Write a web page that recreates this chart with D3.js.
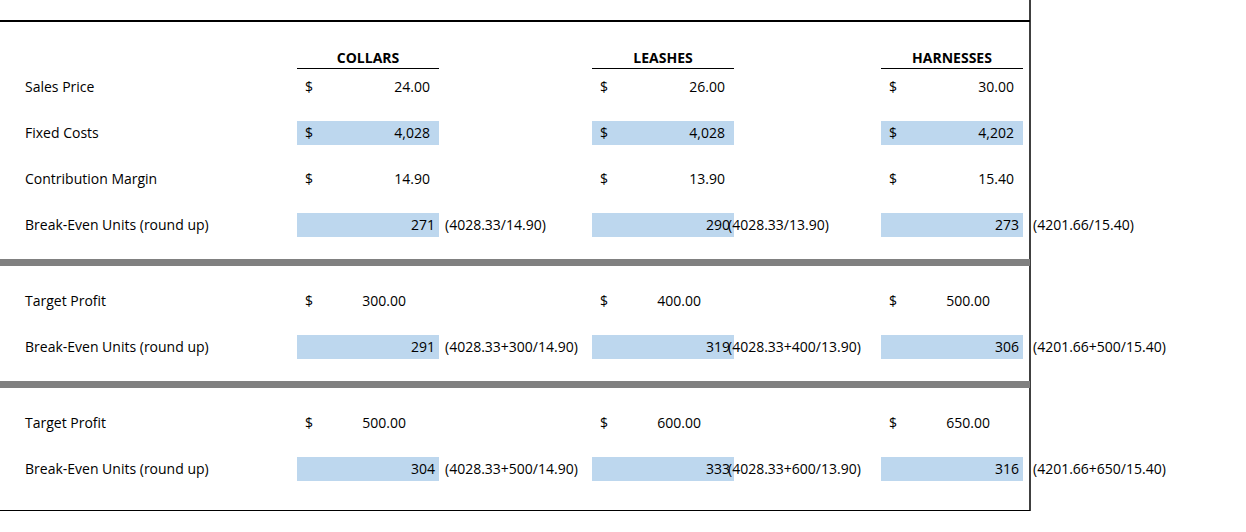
<!DOCTYPE html>
<html lang="en">
  <head>
    <meta charset="UTF-8" />
    <title>Break-Even</title>
    <style>
      body { margin: 0; background: #fff; }
      text { font-family: 'Open Sans', 'Liberation Sans', sans-serif; font-size: 14px; fill: #000; }
    </style>
    <script src="https://d3js.org/d3.v7.min.js"></script>
  </head>
  <body>
    <div class="d3Chart"></div>
    <script type="text/javascript">
      var products = ['COLLARS', 'LEASHES', 'HARNESSES']
      var salesPrice = [24.0, 26.0, 30.0]
      var fixedCosts = [4028, 4028, 4202]
      var contribution = [14.9, 13.9, 15.4]
      var breakEven = [271, 290, 273]
      var breakEvenNotes = ['(4028.33/14.90)', '(4028.33/13.90)', '(4201.66/15.40)']
      var targetProfitA = [300, 400, 500]
      var breakEvenA = [291, 319, 306]
      var notesA = ['(4028.33+300/14.90)', '(4028.33+400/13.90)', '(4201.66+500/15.40)']
      var targetProfitB = [500, 600, 650]
      var breakEvenB = [304, 333, 316]
      var notesB = ['(4028.33+500/14.90)', '(4028.33+600/13.90)', '(4201.66+650/15.40)']

      var width = 1246
      var height = 532
      var svg = d3.select('.d3Chart').append('svg').attr('width', width).attr('height', height)

      // column left edges
      var colX = d3.scaleOrdinal().domain(products).range([297, 592, 881])
      var colW = 142
      var noteX = d3.scaleOrdinal().domain(products).range([443, 726, 1033])

      var fmt2 = d3.format(',.2f')
      var fmt0 = d3.format(',')

      // rows: label, values, format, dollar, highlighted, notes, y centre
      var rows = [
        { label: 'Sales Price', v: salesPrice, f: fmt2, dollar: true, hl: false, y: 87 },
        { label: 'Fixed Costs', v: fixedCosts, f: fmt0, dollar: true, hl: true, y: 133 },
        { label: 'Contribution Margin', v: contribution, f: fmt2, dollar: true, hl: false, y: 179 },
        { label: 'Break-Even Units (round up)', v: breakEven, f: fmt0, dollar: false, hl: true, notes: breakEvenNotes, y: 225 },
        { label: 'Target Profit', v: targetProfitA, f: fmt2, dollar: true, hl: false, y: 301, pad: 24 },
        { label: 'Break-Even Units (round up)', v: breakEvenA, f: fmt0, dollar: false, hl: true, notes: notesA, y: 347 },
        { label: 'Target Profit', v: targetProfitB, f: fmt2, dollar: true, hl: false, y: 423, pad: 24 },
        { label: 'Break-Even Units (round up)', v: breakEvenB, f: fmt0, dollar: false, hl: true, notes: notesB, y: 469 }
      ]

      // frame
      svg.append('line').attr('x1', 0).attr('x2', 1030).attr('y1', 21).attr('y2', 21).attr('stroke', '#000').attr('stroke-width', 2)
      svg.append('line').attr('x1', 1030).attr('x2', 1030).attr('y1', 0).attr('y2', 511).attr('stroke', '#000').attr('stroke-width', 1.5)
      svg.append('line').attr('x1', 0).attr('x2', 1030).attr('y1', 510.5).attr('y2', 510.5).attr('stroke', '#000').attr('stroke-width', 1)
      ;[259, 381].forEach(function (y) {
        svg.append('rect').attr('x', 0).attr('y', y).attr('width', 1030).attr('height', 7).attr('fill', '#808080')
      })

      // headers
      var head = svg.append('g')
      products.forEach(function (p) {
        head.append('text').attr('x', colX(p) + colW / 2).attr('y', 58).attr('dy', '0.35em')
          .attr('text-anchor', 'middle').attr('font-weight', 'bold').text(p)
        head.append('line').attr('x1', colX(p)).attr('x2', colX(p) + colW).attr('y1', 68.5).attr('y2', 68.5)
          .attr('stroke', '#000').attr('stroke-width', 1)
      })

      var g = svg.selectAll('g.row').data(rows).enter().append('g').attr('class', 'row')
      g.append('text').attr('x', 25).attr('y', (d) => d.y).attr('dy', '0.35em').text((d) => d.label)

      g.each(function (r) {
        var sel = d3.select(this)
        products.forEach(function (p, i) {
          var x = colX(p)
          if (r.hl) sel.append('rect').attr('x', x).attr('y', r.y - 12).attr('width', colW).attr('height', 24).attr('fill', '#bdd7ee')
          if (r.dollar) sel.append('text').attr('x', x + 8).attr('y', r.y).attr('dy', '0.35em').text('$')
          var right = r.dollar ? x + colW - 9 - (r.pad || 0) : x + colW - 4
          sel.append('text').attr('x', right).attr('y', r.y).attr('dy', '0.35em').attr('text-anchor', 'end').text(r.f(r.v[i]))
          if (r.notes) sel.append('text').attr('x', noteX(p) + (i === 2 ? 0 : 2)).attr('y', r.y).attr('dy', '0.35em').text(r.notes[i])
        })
      })
    </script>
  </body>
</html>
